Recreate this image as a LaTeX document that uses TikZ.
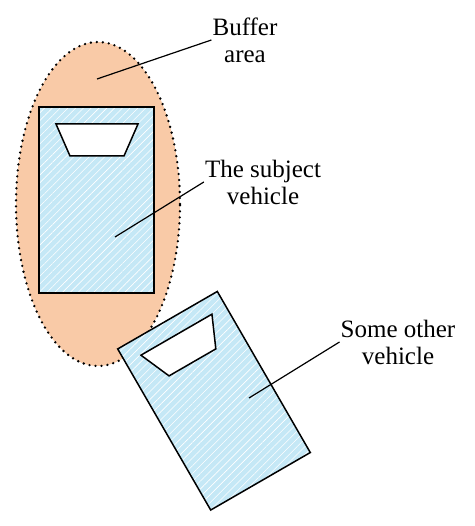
\documentclass[tikz,border=0pt]{standalone}
\usepackage{fontspec}
\setmainfont{Liberation Serif}
\usetikzlibrary{patterns.meta}
\definecolor{bufferorange}{RGB}{249,202,167}
\definecolor{carblue}{RGB}{197,232,246}

\begin{document}
\begin{tikzpicture}[x=1pt, y=1pt,
    body/.style={preaction={fill=carblue}, draw, line width=1.5pt,
        pattern={Lines[angle=45, distance=5.5pt, line width=0.6pt]}, pattern color=white},
    glass/.style={draw, line width=1.5pt, fill=white},
    lbl/.style={align=center, inner sep=1pt, font=\fontsize{25}{27}\selectfont},
    lead/.style={line width=1.2pt}]
    \useasboundingbox (0,0) rectangle (474,526);

    % Buffer
    \draw[fill=bufferorange, line width=2.6pt, line cap=round, dash pattern=on 0pt off 6pt]
        (98,322) ellipse [x radius=82, y radius=162];

    % Vehicles
    \begin{scope}[shift={(96.5,326)}]
        \draw[body] (-57.5,-93) rectangle (57.5,93);
        \draw[glass] (-40.5,76) -- (41.5,76) -- (27.5,44) -- (-26.5,44) -- cycle;
    \end{scope}
    \begin{scope}[shift={(214,125.25)}, rotate=30]
        \draw[body] (-57.5,-93) rectangle (57.5,93);
        \draw[glass] (-40.5,76) -- (41.5,76) -- (27.5,44) -- (-26.5,44) -- cycle;
    \end{scope}

    % Labels
    \node[lbl] (buffer) at (245,486) {Buffer\\area};
    \node[lbl] (subject) at (263,344) {The subject\\vehicle};
    \node[lbl] (other) at (398,184) {Some other\\vehicle};
    \coordinate (inbuffer) at (97,447);
    \coordinate (insubject) at (115,289);
    \coordinate (inother) at (249,128);

    % Lines
    \draw[lead] (buffer.west) -- (inbuffer);
    \draw[lead] (subject.west) -- (insubject);
    \draw[lead] (other.west) -- (inother);
\end{tikzpicture}
\end{document}
